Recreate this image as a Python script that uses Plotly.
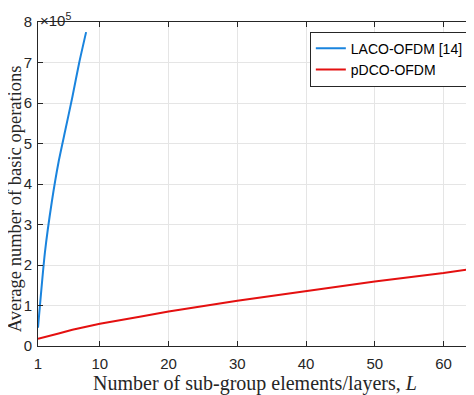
import plotly.graph_objects as go

# Data (values in basic operations)
laco_L = [1, 2, 3, 4, 5, 6, 7, 8]
laco_ops = [0.45e5, 2.3e5, 3.55e5, 4.55e5, 5.35e5, 6.15e5, 7.0e5, 7.75e5]

pdco_L = [1, 2, 4, 6, 8, 10, 16, 20, 30, 40, 50, 60, 64]
pdco_ops = [0.18e5, 0.22e5, 0.31e5, 0.40e5, 0.47e5, 0.55e5, 0.73e5, 0.85e5,
            1.12e5, 1.36e5, 1.59e5, 1.80e5, 1.90e5]

x_ticks = [1, 10, 20, 30, 40, 50, 60]
y_ticks = [0, 1e5, 2e5, 3e5, 4e5, 5e5, 6e5, 7e5, 8e5]
y_ticktext = ["0", "1", "2", "3", "4", "5", "6", "7", "8"]

fig = go.Figure()
fig.add_trace(go.Scatter(x=laco_L, y=laco_ops, mode="lines", name="LACO-OFDM [14]",
                         line=dict(color="#1a84de", width=2, shape="spline", smoothing=0.6)))
fig.add_trace(go.Scatter(x=pdco_L, y=pdco_ops, mode="lines", name="pDCO-OFDM",
                         line=dict(color="#e41010", width=2)))

axis_common = dict(showgrid=True, gridcolor="#e5e5e5", gridwidth=1,
                   showline=True, linecolor="#262626", linewidth=1, mirror="ticks",
                   ticks="inside", ticklen=5, tickcolor="#262626",
                   tickfont=dict(family="Liberation Sans, Arial", size=15, color="#262626"),
                   zeroline=False, automargin=False)

fig.update_xaxes(range=[1, 64], tickvals=x_ticks, ticklabelstandoff=4, **axis_common)
fig.update_yaxes(range=[0, 8e5], tickvals=y_ticks, ticktext=y_ticktext,
                 ticklabelstandoff=2, **axis_common)

fig.update_layout(
    width=466, height=387,
    margin=dict(l=30, r=3, t=14, b=49, autoexpand=False),
    plot_bgcolor="white", paper_bgcolor="white",
    showlegend=True,
    legend=dict(x=0.995, y=0.97, xanchor="right", yanchor="top",
                bgcolor="white", bordercolor="#262626", borderwidth=1,
                font=dict(family="Liberation Sans, Arial", size=14, color="#000000"),
                tracegroupgap=0, itemwidth=30),
    annotations=[
        dict(text="×10<sup>5</sup>", xref="paper", yref="paper", x=0.0, y=1.043,
             xanchor="left", yanchor="top", showarrow=False,
             font=dict(family="Liberation Sans, Arial", size=15, color="#262626")),
        dict(text="Average number of basic operations", xref="paper", yref="paper",
             x=-0.053, y=0.453, xanchor="center", yanchor="middle", textangle=-90,
             showarrow=False,
             font=dict(family="Liberation Serif, DejaVu Serif", size=18.5, color="#262626")),
        dict(text="Number of sub-group elements/layers, <i>L</i>", xref="paper", yref="paper",
             x=0.5, y=-0.116, xanchor="center", yanchor="middle", showarrow=False,
             font=dict(family="Liberation Serif, DejaVu Serif", size=20, color="#262626")),
    ],
)

fig.write_html("out.html")
